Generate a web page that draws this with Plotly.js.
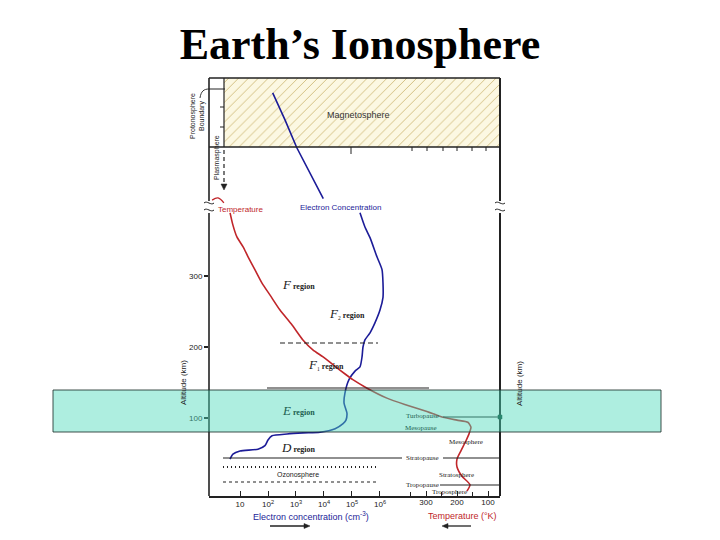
<!DOCTYPE html>
<html>
<head>
<meta charset="utf-8">
<script src="https://cdn.plot.ly/plotly-3.0.1.min.js"></script>
<style>html,body{margin:0;padding:0;background:#fff;}#chart{width:720px;height:540px;}</style>
</head>
<body>
<div id="chart"></div>
<script>
// ---------- data ----------
// Electron concentration (cm^-3) vs altitude (km), ionosphere part
const neIono = [1.93e5, 2.9e5, 4.4e5, 7.8e5, 1.18e6, 1.28e6, 1.28e6, 1.0e6, 6.6e5, 4.4e5, 2.9e5, 2.47e5,
                2.28e5, 1.93e5, 1.28e5, 7.8e4, 5.6e4, 5.2e4, 6.6e4, 6.1e4, 4.8e4, 2.5e4, 7.2e3, 1.8e3,
                480, 139, 100, 78, 44, 10, 5.6, 4.4];
const altIono = [389, 369, 354, 327, 309, 290, 270, 252, 234, 220, 210, 200,
                 186, 172, 166, 154, 135, 121, 107, 97, 92, 85, 80, 79,
                 77.5, 75, 69, 61, 56, 53.5, 49, 42];
// Electron concentration in the magnetosphere part (compressed upper scale)
const neMag  = [147, 405, 1060, 9440];
const altMag = [558, 520, 481, 409];
// Temperature (K) vs altitude (km)
const tempK  = [932, 923, 910, 890, 874, 852, 829, 803, 771, 732, 697, 665, 632, 594, 561, 536,
                490, 426, 361, 297, 277, 245, 200, 165, 155, 161, 171, 187, 200, 200, 184, 158, 168];
const altT   = [389, 372, 355, 341, 327, 309, 290, 273, 252, 231, 210, 196, 186, 173, 162, 154,
                142, 128, 118, 109, 106, 101, 97, 94, 87, 78, 68, 54, 42, 31, 18, 6, -3];
const tempTop = [990, 971, 952];
const altTTop = [407, 410, 403];
// Tick labels
const neTickVals = [10, 100, 1000, 1e4, 1e5, 1e6];
const neTickText = ['10', '10<sup>2</sup>', '10<sup>3</sup>', '10<sup>4</sup>', '10<sup>5</sup>', '10<sup>6</sup>'];
const tTickVals = [300, 200, 100];
const tTickText = ['300', '200', '100'];
const tMinorVals = [350, 250, 150];
const leftTickVals = [100, 200, 300];
const leftTickText = ['100', '200', '300'];
const rightTickVals = [5.6, 43.7, 90, 200, 300];
const rightTickText = ['10', '50', '90', '200', '300'];

// ---------- helpers: page pixel -> paper fraction ----------
const PL = 209, PR = 500, PT = 78, PB = 496;
const px = p => (p - PL) / (PR - PL);
const py = p => (PB - p) / (PB - PT);

const BLUE = '#1c1c98', RED = '#c0262a', INK = '#222';
const SANS = 'Liberation Sans, Arial, sans-serif';
const SERIF = 'Liberation Serif, Times New Roman, serif';

// magnetosphere region bounds (log axis / altitude axis units)
const magX = [Math.pow(10, 1 + (224 - 240) / 28), Math.pow(10, 10.29)];
const magY = [(489 - 147) / 0.71, 600];

const traces = [
  {x: [magX[0], magX[1], magX[1], magX[0], magX[0]], y: [magY[0], magY[0], magY[1], magY[1], magY[0]],
   xaxis: 'x', yaxis: 'y', mode: 'lines', fill: 'toself', line: {width: 0},
   fillcolor: '#fcf8e2',
   fillpattern: {shape: '/', bgcolor: '#fcf8e2', fgcolor: '#d2bf82', size: 7, solidity: 0.14},
   hoverinfo: 'skip'},
  {x: neMag, y: altMag, xaxis: 'x', yaxis: 'y', mode: 'lines', line: {color: BLUE, width: 1.6}},
  {x: neIono, y: altIono, xaxis: 'x', yaxis: 'y', mode: 'lines', line: {color: BLUE, width: 1.6, shape: 'spline', smoothing: 0.6}},
  {x: tempK, y: altT, xaxis: 'x2', yaxis: 'y', mode: 'lines', line: {color: RED, width: 1.6, shape: 'spline', smoothing: 0.6}},
  {x: tempTop, y: altTTop, xaxis: 'x2', yaxis: 'y', mode: 'lines', line: {color: RED, width: 1.4, shape: 'spline'}}
];

function hline(y, x0, x1, extra) {
  return Object.assign({type: 'line', xref: 'paper', yref: 'paper', x0: px(x0), x1: px(x1), y0: py(y), y1: py(y),
    line: {color: INK, width: 1.2}}, extra || {});
}
function vline(x, y0, y1, extra) {
  return Object.assign({type: 'line', xref: 'paper', yref: 'paper', x0: px(x), x1: px(x), y0: py(y0), y1: py(y1),
    line: {color: INK, width: 1.6}}, extra || {});
}
function pix(x, y, path, extra) {
  return Object.assign({type: 'path', xref: 'paper', yref: 'paper', xsizemode: 'pixel', ysizemode: 'pixel',
    xanchor: px(x), yanchor: py(y), path: path, line: {color: INK, width: 1}}, extra || {});
}

const shapes = [
  vline(209, 78, 201), vline(209, 213, 496),
  vline(500, 78, 201, {line: {color: INK, width: 2}}), vline(500, 213, 496, {line: {color: INK, width: 2}}),
  hline(78, 209, 500, {line: {color: INK, width: 1.6}}),
  vline(224, 78, 147, {line: {color: INK, width: 1.2}}),
  hline(147, 209, 500, {line: {color: INK, width: 1.4}}),
  hline(89, 209, 225, {line: {color: INK, width: 1}}),
  pix(209, 89, 'M0,0 C-5,0 -8,-2 -9,-9', {line: {color: INK, width: 0.9}}),
  vline(224, 150, 184, {line: {color: INK, width: 1.2, dash: '4px,3px'}}),
  pix(224, 190, 'M0,0 L-3,6 L3,6 Z', {fillcolor: INK, line: {color: INK, width: 0.5}}),
  hline(107, 220, 224, {line: {color: INK, width: 1}}),
  hline(127, 220, 224, {line: {color: INK, width: 1}}),
  // ticks under the magnetosphere box
  vline(351, 147, 154, {line: {color: INK, width: 1}}),
  vline(412, 147, 151, {line: {color: INK, width: 1}}), vline(427, 147, 151, {line: {color: INK, width: 1}}),
  vline(443, 147, 151, {line: {color: INK, width: 1}}), vline(457, 147, 151, {line: {color: INK, width: 1}}),
  vline(472, 147, 151, {line: {color: INK, width: 1}}), vline(486, 147, 151, {line: {color: INK, width: 1}}),
  // axis break marks
  pix(209, 207, 'M-5,4 C-2,7 2,1 5,4 M-5,-3 C-2,0 2,-6 5,-3'),
  pix(500, 207, 'M-5,4 C-2,7 2,1 5,4 M-5,-3 C-2,0 2,-6 5,-3'),
  // region boundaries
  hline(343, 280, 378, {line: {color: INK, width: 1.1, dash: '5px,3px'}}),
  hline(388, 267, 429, {line: {color: INK, width: 1.1}}),
  hline(458, 223, 402, {line: {color: INK, width: 1.1}}),
  hline(458, 443, 500, {line: {color: INK, width: 1.1}}),
  hline(417, 443, 500, {line: {color: INK, width: 1.1}}),
  hline(485, 440, 500, {line: {color: INK, width: 1.1}}),
  hline(467, 223, 379, {line: {color: INK, width: 1.8, dash: '1px,3px'}}),
  hline(482, 223, 379, {line: {color: INK, width: 1.1, dash: '3px,3px'}}),
  pix(500, 417, 'M-2,-2 L2,-2 L2,2 L-2,2 Z', {fillcolor: '#114433', line: {color: '#114433', width: 0.5}}),
  // bottom arrows
  hline(526, 270, 305, {line: {color: INK, width: 1.3}}),
  pix(310, 526, 'M0,0 L-6,2.5 L-6,-2.5 Z', {fillcolor: INK, line: {color: INK, width: 0.5}}),
  hline(526, 447, 471, {line: {color: INK, width: 1.3}}),
  pix(442, 526, 'M0,0 L6,2.5 L6,-2.5 Z', {fillcolor: INK, line: {color: INK, width: 0.5}}),
  // translucent band
  {type: 'rect', xref: 'paper', yref: 'paper', x0: px(53), x1: px(661), y0: py(432), y1: py(390),
   fillcolor: 'rgba(75,217,186,0.45)', line: {color: 'rgba(30,50,45,0.85)', width: 1}, layer: 'above'}
];
// minor temperature ticks
tMinorVals.forEach(v => shapes.push({type: 'line', xref: 'x2', yref: 'paper', x0: v, x1: v, y0: 0, y1: py(492),
  line: {color: INK, width: 1}}));

function note(text, x, y, opts) {
  return Object.assign({text: text, xref: 'paper', yref: 'paper', x: px(x), y: py(y), showarrow: false,
    xanchor: 'center', yanchor: 'middle', font: {family: SANS, size: 8, color: INK}}, opts || {});
}
const TEAL = '#1d5e50';
const reg = (letter, sub) => '<span style="font-size:13px"><i>' + letter + '</i></span>' +
  (sub ? '<sub>' + sub + '</sub>' : '') + '<b> region</b>';

const annotations = [
  note('Magnetosphere', 358, 115, {font: {family: SANS, size: 9, color: '#333'}}),
  note('Temperature', 240, 209, {font: {family: SANS, size: 8, color: RED}}),
  note('Electron Concentration', 340, 208, {font: {family: SANS, size: 8, color: BLUE}}),
  note(reg('F'), 298, 284, {font: {family: SERIF, size: 8, color: INK}}),
  note(reg('F', '2'), 347, 313, {font: {family: SERIF, size: 8, color: INK}}),
  note(reg('F', '1'), 326, 364, {font: {family: SERIF, size: 8, color: INK}}),
  note(reg('E'), 298, 410, {font: {family: SERIF, size: 8, color: TEAL}}),
  note(reg('D'), 298, 447, {font: {family: SERIF, size: 8, color: INK}}),
  note('Ozonosphere', 298, 475, {font: {family: SANS, size: 7, color: INK}}),
  note('Turbopause', 422, 416, {font: {family: SERIF, size: 7, color: TEAL}}),
  note('Mesopause', 421, 428, {font: {family: SERIF, size: 7, color: TEAL}}),
  note('Mesosphere', 466, 442, {font: {family: SERIF, size: 7, color: INK}}),
  note('Stratopause', 422, 458, {font: {family: SERIF, size: 7, color: INK}}),
  note('Stratosphere', 456, 475, {font: {family: SERIF, size: 7, color: INK}}),
  note('Tropopause', 422, 485, {font: {family: SERIF, size: 7, color: INK}}),
  note('Troposphere', 449, 492, {font: {family: SERIF, size: 7, color: INK}}),
  note('Protonosphere<br>Boundary', 197, 116, {textangle: -90, font: {family: SANS, size: 7, color: INK}}),
  note('Plasmasphere', 217, 158, {textangle: -90, font: {family: SANS, size: 7, color: INK}}),
  note('Altitude (km)', 183, 383, {textangle: -90, font: {family: SANS, size: 8, color: INK}}),
  note('Altitude (km)', 519, 384, {textangle: -90, font: {family: SANS, size: 8, color: INK}}),
  note('Electron concentration (cm<sup>-3</sup>)', 311, 516, {font: {family: SANS, size: 9, color: BLUE}}),
  note('Temperature (°K)', 462, 516, {font: {family: SANS, size: 9, color: RED}})
];

const tickFont = {family: SANS, size: 8, color: INK};
const layout = {
  width: 720, height: 540,
  margin: {l: PL, r: 720 - PR, t: PT, b: 540 - PB, pad: 0},
  paper_bgcolor: '#fff', plot_bgcolor: '#fff',
  showlegend: false,
  title: {text: '<b>Earth’s Ionosphere</b>', xref: 'container', x: 0.5, xanchor: 'center',
          yref: 'container', y: 0.92, yanchor: 'middle',
          font: {family: SERIF, size: 44, color: '#000'}},
  xaxis: {type: 'log', range: [-0.107, 10.286], tickvals: neTickVals, ticktext: neTickText,
          ticks: 'inside', ticklen: 5, tickwidth: 1, tickcolor: INK, showline: true, linecolor: INK, linewidth: 1.8,
          showgrid: false, zeroline: false, tickfont: tickFont, fixedrange: true},
  xaxis2: {overlaying: 'x', side: 'bottom', anchor: 'y', range: [1000, 61.3], tickvals: tTickVals, ticktext: tTickText,
           ticks: 'inside', ticklen: 5, tickwidth: 1, tickcolor: INK, showline: false,
           showgrid: false, zeroline: false, tickfont: tickFont},
  yaxis: {range: [-9.86, 578.9], tickvals: leftTickVals, ticktext: leftTickText, ticks: 'outside', ticklen: 4,
          tickwidth: 1.5, tickcolor: INK, showline: false, showgrid: false, zeroline: false, tickfont: tickFont},
  yaxis2: {overlaying: 'y', side: 'right', anchor: 'x', range: [-9.86, 578.9], tickvals: rightTickVals,
           ticktext: rightTickText, ticks: 'inside', ticklen: 5, tickwidth: 1.5, tickcolor: INK,
           showline: false, showgrid: false, zeroline: false, tickfont: tickFont},
  shapes: shapes,
  annotations: annotations
};

Plotly.newPlot('chart', traces, layout, {staticPlot: true, displayModeBar: false});
</script>
</body>
</html>
